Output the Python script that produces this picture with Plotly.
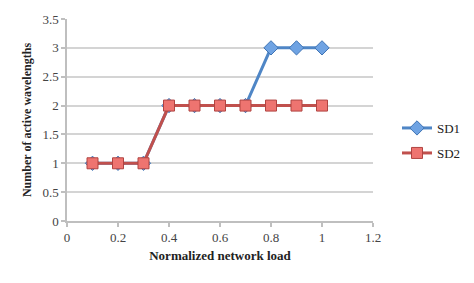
import plotly.graph_objects as go

loads = [0.1, 0.2, 0.3, 0.4, 0.5, 0.6, 0.7, 0.8, 0.9, 1.0]
sd1 = [1, 1, 1, 2, 2, 2, 2, 3, 3, 3]
sd2 = [1, 1, 1, 2, 2, 2, 2, 2, 2, 2]
x_ticks = [0, 0.2, 0.4, 0.6, 0.8, 1, 1.2]
y_ticks = [0, 0.5, 1, 1.5, 2, 2.5, 3, 3.5]

font = "Liberation Serif, Times New Roman, serif"
fig = go.Figure()
fig.add_trace(go.Scatter(
    x=loads, y=sd1, name="SD1", mode="lines+markers",
    line=dict(color="#4F86C6", width=3),
    marker=dict(symbol="diamond", size=11, color="#6FA3E3",
                line=dict(color="#3F74B5", width=1)),
    legend="legend", showlegend=True))
fig.add_trace(go.Scatter(
    x=loads, y=sd2, name="SD2", mode="lines+markers",
    line=dict(color="#C0504D", width=3),
    marker=dict(symbol="square", size=11, color="#EE7470",
                line=dict(color="#B04441", width=1)),
    legend="legend2", showlegend=True))

axis_common = dict(
    showline=True, linecolor="#BFBFBF", linewidth=1.5,
    ticks="outside", tickcolor="#BFBFBF", ticklen=4, tickwidth=1.5,
    tickfont=dict(family=font, size=13, color="#444444"),
    zeroline=False,
)
fig.update_xaxes(range=[0, 1.2], tickvals=x_ticks,
                 ticktext=[str(v) for v in x_ticks],
                 showgrid=False,
                 title=dict(text="<b>Normalized network load</b>",
                            font=dict(family=font, size=13, color="#222222"),
                            standoff=7),
                 **axis_common)
fig.update_yaxes(range=[0, 3.5], tickvals=y_ticks,
                 ticktext=[str(v) for v in y_ticks],
                 showgrid=True, gridcolor="#D4D4D4", gridwidth=1.5,
                 title=dict(text="<b>Number of active wavelengths</b>",
                            font=dict(family=font, size=12, color="#222222"),
                            standoff=8),
                 **axis_common)

leg_common = dict(font=dict(family=font, size=13, color="#222222"),
                  bgcolor="rgba(0,0,0,0)", xanchor="left", yanchor="middle",
                  xref="container", yref="container", x=397 / 474)
fig.update_layout(
    width=474, height=283, showlegend=True,
    margin=dict(l=67, r=101, t=17, b=62),
    paper_bgcolor="white", plot_bgcolor="white",
    legend=dict(y=1 - 128 / 283, **leg_common),
    legend2=dict(y=1 - 153 / 283, **leg_common),
)
fig.write_html("out.html")
